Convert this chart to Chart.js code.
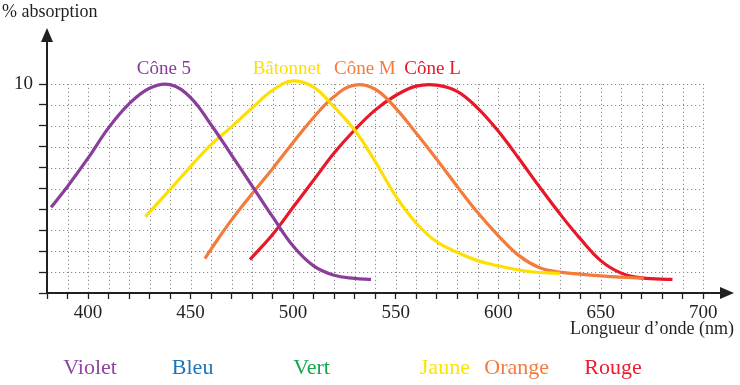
<!DOCTYPE html>
<html>
<head>
<meta charset="utf-8">
<script src="https://cdn.jsdelivr.net/npm/chart.js@4"></script>
<style>
  html, body { margin: 0; padding: 0; background: #fff; }
  #wrap { width: 740px; height: 385px; position: relative; }
</style>
</head>
<body>
<div id="wrap"><canvas id="absChart"></canvas></div>
<script>
// Absorption curves (wavelength in nm, absorption in arbitrary units)
const coneSX = [382, 390, 400, 410, 420, 430, 440, 450, 460, 470, 480, 490, 500, 510, 520, 530, 538];
const coneSY = [4.1, 5.1, 6.45, 7.9, 9.05, 9.8, 9.97, 9.35, 8.05, 6.6, 5.13, 3.65, 2.25, 1.3, 0.85, 0.7, 0.65];

const rodX = [428, 440, 450, 460, 470, 480, 490, 500, 510, 520, 530, 540, 550, 560, 570, 580, 590, 600, 610, 620, 630];
const rodY = [3.65, 4.95, 6.05, 7.1, 7.95, 8.85, 9.7, 10.15, 9.85, 8.9, 7.8, 6.3, 4.65, 3.35, 2.45, 1.95, 1.55, 1.3, 1.1, 0.98, 0.94];

const coneMX = [457, 460, 470, 480, 490, 500, 510, 520, 530, 540, 550, 560, 570, 580, 590, 600, 610, 620, 630, 640, 650, 660, 671];
const coneMY = [1.65, 2.1, 3.5, 4.75, 5.95, 7.2, 8.4, 9.4, 9.95, 9.75, 8.85, 7.65, 6.4, 5.1, 3.85, 2.75, 1.8, 1.22, 1.0, 0.9, 0.82, 0.76, 0.7];

const coneLX = [479, 490, 500, 510, 520, 530, 540, 550, 560, 570, 580, 590, 600, 610, 620, 630, 640, 650, 660, 670, 685];
const coneLY = [1.6, 2.8, 4.1, 5.4, 6.7, 7.8, 8.75, 9.45, 9.9, 9.95, 9.65, 8.85, 7.75, 6.45, 5.1, 3.8, 2.6, 1.55, 0.95, 0.72, 0.65];

const seriesNames = ['Cône 5', 'Bâtonnet', 'Cône M', 'Cône L'];
const seriesColors = ['#8a3d9a', '#ffdf00', '#f47b3b', '#e8172a'];
const labelAt = [437, 497, 535, 568];

// Spectrum colour names under the axis, anchored on a wavelength
const spectrumNames = ['Violet', 'Bleu', 'Vert', 'Jaune', 'Orange', 'Rouge'];
const spectrumAt = [401, 451, 509, 574, 609, 656];
const spectrumColors = ['#8e44a0', '#1b75bb', '#12a84a', '#ffe300', '#f47b3b', '#ec1c2e'];

const xTickLabels = [400, 450, 500, 550, 600, 650, 700];
const yTickLabels = [10];

function toPoints(xs, ys) {
    return xs.map((x, i) => ({ x: x, y: ys[i] }));
}

const serif = '"Liberation Serif", "DejaVu Serif", serif';
const ink = '#231f20';

// Dotted grid, axes with arrows and all extra texts
const decorPlugin = {
    id: 'decor',
    beforeDatasetsDraw(chart) {
        const ctx = chart.ctx;
        const xs = chart.scales.x, ys = chart.scales.y;
        const left = xs.getPixelForValue(380), right = xs.getPixelForValue(700);
        const bottom = ys.getPixelForValue(0), top = ys.getPixelForValue(10);
        ctx.save();
        ctx.strokeStyle = '#8a8a8a';
        ctx.lineWidth = 1;
        ctx.setLineDash([1.2, 2.8]);
        for (let v = 390; v <= 700; v += 10) {
            const px = Math.round(xs.getPixelForValue(v)) + 0.5;
            ctx.beginPath(); ctx.moveTo(px, bottom); ctx.lineTo(px, top); ctx.stroke();
        }
        for (let v = 1; v <= 10; v++) {
            const py = Math.round(ys.getPixelForValue(v)) + 0.5;
            ctx.beginPath(); ctx.moveTo(left, py); ctx.lineTo(right, py); ctx.stroke();
        }
        ctx.restore();
    },
    afterDatasetsDraw(chart) {
        const ctx = chart.ctx;
        const xs = chart.scales.x, ys = chart.scales.y;
        const area = chart.chartArea;
        const x0 = xs.getPixelForValue(380), y0 = ys.getPixelForValue(0);
        ctx.save();
        ctx.strokeStyle = ink;
        ctx.fillStyle = ink;
        ctx.lineWidth = 2;
        // y axis + arrow
        ctx.beginPath(); ctx.moveTo(x0, y0 + 1); ctx.lineTo(x0, area.top + 10); ctx.stroke();
        ctx.beginPath();
        ctx.moveTo(x0, area.top); ctx.lineTo(x0 - 6, area.top + 14); ctx.lineTo(x0 + 6, area.top + 14);
        ctx.closePath(); ctx.fill();
        // x axis + arrow
        ctx.beginPath(); ctx.moveTo(x0 - 1, y0); ctx.lineTo(area.right - 10, y0); ctx.stroke();
        ctx.beginPath();
        ctx.moveTo(area.right, y0); ctx.lineTo(area.right - 14, y0 - 6); ctx.lineTo(area.right - 14, y0 + 6);
        ctx.closePath(); ctx.fill();

        // axis titles
        ctx.font = '18px ' + serif;
        ctx.textBaseline = 'alphabetic';
        ctx.textAlign = 'left';
        ctx.fillText('% absorption', 2, 17);
        ctx.textAlign = 'right';
        ctx.fillText('Longueur d\u2019onde (nm)', 734, 334);

        // curve names above their peaks
        ctx.font = '19px ' + serif;
        ctx.textAlign = 'center';
        seriesNames.forEach((name, i) => {
            ctx.fillStyle = seriesColors[i];
            ctx.fillText(name, xs.getPixelForValue(labelAt[i]), ys.getPixelForValue(10.5));
        });

        // spectrum colour names
        ctx.font = '22px ' + serif;
        ctx.textBaseline = 'middle';
        spectrumNames.forEach((name, i) => {
            ctx.fillStyle = spectrumColors[i];
            ctx.fillText(name, xs.getPixelForValue(spectrumAt[i]), 368);
        });
        ctx.restore();
    }
};

const chart = new Chart(document.getElementById('absChart'), {
    type: 'line',
    data: {
        datasets: [
            { label: seriesNames[0], data: toPoints(coneSX, coneSY), borderColor: seriesColors[0] },
            { label: seriesNames[1], data: toPoints(rodX, rodY), borderColor: seriesColors[1] },
            { label: seriesNames[2], data: toPoints(coneMX, coneMY), borderColor: seriesColors[2] },
            { label: seriesNames[3], data: toPoints(coneLX, coneLY), borderColor: seriesColors[3] }
        ]
    },
    options: {
        responsive: true,
        maintainAspectRatio: false,
        animation: false,
        layout: { padding: { top: 28, right: 6, left: 0, bottom: 0 } },
        elements: {
            line: { borderWidth: 3.2, tension: 0.4, fill: false, borderCapStyle: 'butt' },
            point: { radius: 0, hoverRadius: 0 }
        },
        scales: {
            x: {
                type: 'linear',
                min: 380,
                max: 715,
                afterBuildTicks: scale => {
                    scale.ticks = [];
                    for (let v = 380; v <= 700; v += 10) scale.ticks.push({ value: v });
                },
                afterFit: scale => { scale.height = 92; },
                ticks: {
                    autoSkip: false,
                    maxRotation: 0,
                    padding: 3,
                    color: ink,
                    font: { family: serif, size: 19 },
                    callback: v => xTickLabels.includes(v) ? String(v) : ''
                },
                grid: { drawOnChartArea: false, drawTicks: true, tickLength: 6, tickColor: ink, tickWidth: 1.3 },
                border: { display: false }
            },
            y: {
                type: 'linear',
                min: 0,
                max: 12.68,
                afterBuildTicks: scale => {
                    scale.ticks = [];
                    for (let v = 0; v <= 10; v++) scale.ticks.push({ value: v });
                },
                afterFit: scale => { scale.width = 47; },
                ticks: {
                    autoSkip: false,
                    padding: 6,
                    color: ink,
                    font: { family: serif, size: 19 },
                    callback: v => yTickLabels.includes(v) ? String(v) : ''
                },
                grid: { drawOnChartArea: false, drawTicks: true, tickLength: 8, tickColor: ink, tickWidth: 1.3 },
                border: { display: false }
            }
        },
        plugins: {
            legend: { display: false },
            tooltip: { enabled: false }
        }
    },
    plugins: [decorPlugin]
});
</script>
</body>
</html>
